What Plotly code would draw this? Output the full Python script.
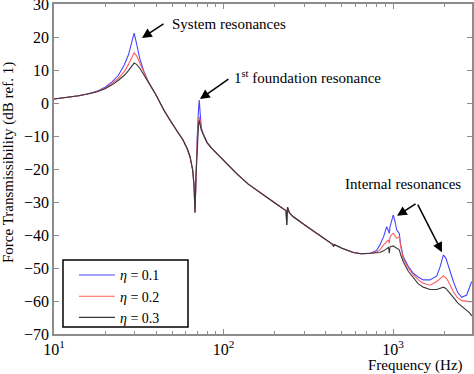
import numpy as np
import plotly.graph_objects as go

freq_hz = [10, 12, 14, 16, 18, 20, 22, 24, 26, 27.5, 28.7, 29.7, 30.7, 32, 34, 36, 40, 44.6, 48.3, 53,
           57.7, 61, 63.4, 65.8, 67, 67.9, 68.8, 70, 71.2, 71.9, 72.8, 74, 75.7, 80, 85, 90, 99.3, 110,
           120, 140, 164, 188, 210, 230, 234, 236, 238.5, 245, 257, 300, 350, 400, 440, 446, 450, 500,
           583, 650, 731, 800, 837, 880, 918, 940, 951, 960, 985, 1004, 1030, 1052, 1070, 1089, 1110,
           1150, 1230, 1318, 1410, 1510, 1652, 1811, 1900, 1982, 2050, 2120, 2270, 2400, 2543, 2722,
           2830, 2912]

common_lo = [1.2, 1.7, 2.2, 2.8]
common_mid = [2.4, -2.3, -5.2, -8.4, -11.2, -13.8, -16.2, -20.3, -25.0, -33.2, -22.0]
common_mid2 = [-9.3, -12.0, -13.7, -15.0, -17.2, -19.6, -21.5, -24.6, -27.2, -29.3, -31.0, -32.4,
               -32.7, -37.0, -31.6, -33.3, -34.4, -36.9, -39.2, -41.3, -42.8, -43.5, -42.9, -44.0,
               -45.3, -45.7, -45.6]

tr_eta01 = common_lo + [3.6, 4.8, 6.4, 8.4, 11.6, 14.6, 18.3, 21.2, 18.0, 13.6, 9.4, 6.5] + common_mid + \
    [-10.0, -2.0, 0.9, -3.0, -7.5] + common_mid2 + \
    [-44.7, -43.0, -40.5, -37.5, -38.8, -39.5, -37.5, -35.2, -33.9, -36.2, -38.5, -39.0, -39.5, -43.0,
     -46.6, -49.5, -51.6, -52.8, -53.6, -53.6, -52.4, -49.5, -46.0, -47.0, -49.6, -54.1, -57.3, -58.9,
     -58.2, -56.0, -54.1]
tr_eta02 = common_lo + [3.5, 4.5, 5.9, 7.5, 9.6, 11.7, 13.9, 15.2, 14.3, 12.3, 9.0, 6.4] + common_mid + \
    [-11.0, -5.5, -4.2, -5.8, -8.0] + common_mid2 + \
    [-45.2, -44.5, -43.0, -42.0, -41.5, -42.5, -40.5, -39.8, -39.5, -40.3, -41.0, -40.8, -40.5, -43.5,
     -47.2, -50.0, -52.1, -53.6, -54.6, -55.2, -54.1, -53.2, -52.4, -52.9, -54.1, -57.2, -59.0, -59.9,
     -60.2, -60.2, -60.2]
tr_eta03 = common_lo + [3.4, 4.3, 5.5, 6.9, 8.4, 9.8, 11.2, 12.1, 11.7, 10.6, 8.4, 6.2] + common_mid + \
    [-12.0, -7.0, -5.3, -6.6, -8.2] + common_mid2 + \
    [-45.5, -45.3, -44.8, -44.3, -43.8, -45.5, -43.6, -43.4, -43.3, -43.7, -44.0, -44.3, -44.5, -46.0,
     -48.1, -51.0, -53.1, -54.8, -55.8, -56.5, -56.5, -56.2, -55.8, -56.2, -57.2, -58.9, -60.5, -61.5,
     -62.7, -63.6, -64.5]

series_names = ["<i>η</i> = 0.1", "<i>η</i> = 0.2", "<i>η</i> = 0.3"]
series_colors = ["#4646ff", "#ff5c5c", "#383838"]

y_ticks = [-70, -60, -50, -40, -30, -20, -10, 0, 10, 20, 30]
x_major = [10, 100, 1000]
x_major_labels = ["10<sup>1</sup>", "10<sup>2</sup>", "10<sup>3</sup>"]
x_minor = [20, 30, 40, 50, 60, 70, 80, 90, 200, 300, 400, 500, 600, 700, 800, 900, 2000]

FONT = "Liberation Serif, Times New Roman, serif"

fig = go.Figure()
for vals, name, col in zip([tr_eta01, tr_eta02, tr_eta03], series_names, series_colors):
    fig.add_trace(go.Scatter(x=freq_hz, y=vals, mode="lines", name=name,
                             line=dict(color=col, width=1.1)))

axis_common = dict(showgrid=False, zeroline=False, showline=True, linecolor="#8c8c8c", linewidth=1.5,
                   mirror="ticks", ticks="inside", tickcolor="#8c8c8c", tickwidth=1, automargin=False,
                   ticklabeloverflow="allow",
                   tickfont=dict(family=FONT, size=16, color="black"))

fig.update_xaxes(type="log", range=[1, 3.466], tickmode="array", tickvals=x_major,
                 ticktext=x_major_labels, ticklen=5,
                 minor=dict(tickmode="array", tickvals=x_minor, ticks="inside", ticklen=3,
                            tickcolor="#8c8c8c", tickwidth=1),
                 **axis_common)
fig.update_yaxes(range=[-70, 30], tickmode="array", tickvals=y_ticks, ticklen=5, **axis_common)

ann_font = dict(family=FONT, size=15, color="black")
annotations = [
    dict(x=1.684, y=23.8, text="System resonances", showarrow=False, xanchor="left", yanchor="middle"),
    dict(x=2.05, y=7.9, text="1<sup>st</sup> foundation resonance", showarrow=False, xanchor="left",
         yanchor="middle"),
    dict(x=2.705, y=-24.5, text="Internal resonances", showarrow=False, xanchor="left", yanchor="middle"),
    dict(x=1.519, y=19.7, text="", showarrow=True, ax=23, ay=-15),
    dict(x=1.861, y=1.2, text="", showarrow=True, ax=30, ay=-21),
    dict(x=3.024, y=-34.2, text="", showarrow=True, ax=20, ay=-13),
    dict(x=3.289, y=-45.2, text="", showarrow=True, ax=-25, ay=-49),
]
for a in annotations:
    a.update(xref="x", yref="y", font=ann_font)
    if a["showarrow"]:
        a.update(arrowhead=2, arrowsize=1.3, arrowwidth=1.5, arrowcolor="black")
    fig.add_annotation(**a)

fig.add_annotation(xref="paper", yref="paper", x=0.983, y=-0.094, text="Frequency (Hz)",
                   showarrow=False, xanchor="right", yanchor="middle", font=ann_font)
fig.add_annotation(xref="paper", yref="paper", x=0, xshift=-46, y=0.5, yshift=6,
                   text="Force Transmissibility (dB ref. 1)", textangle=-90,
                   showarrow=False, xanchor="center", yanchor="middle", font=ann_font)

# legend frame
fig.add_shape(type="rect", xref="paper", yref="paper", x0=0.0215, x1=0.3206, y0=0.0212, y1=0.2242,
              line=dict(color="black", width=1.5), fillcolor="rgba(0,0,0,0)", layer="above")

fig.update_layout(
    width=474, height=374,
    margin=dict(l=54, r=2, t=4, b=40, autoexpand=False),
    plot_bgcolor="white", paper_bgcolor="white",
    showlegend=True,
    legend=dict(x=0.0477, y=0.226, xanchor="left", yanchor="top", bgcolor="rgba(0,0,0,0)",
                borderwidth=0, font=dict(family=FONT, size=14, color="black"),
                itemwidth=36),
)

fig.write_html("out.html", config={"displayModeBar": False},
               post_script="document.body.style.margin='0';")
